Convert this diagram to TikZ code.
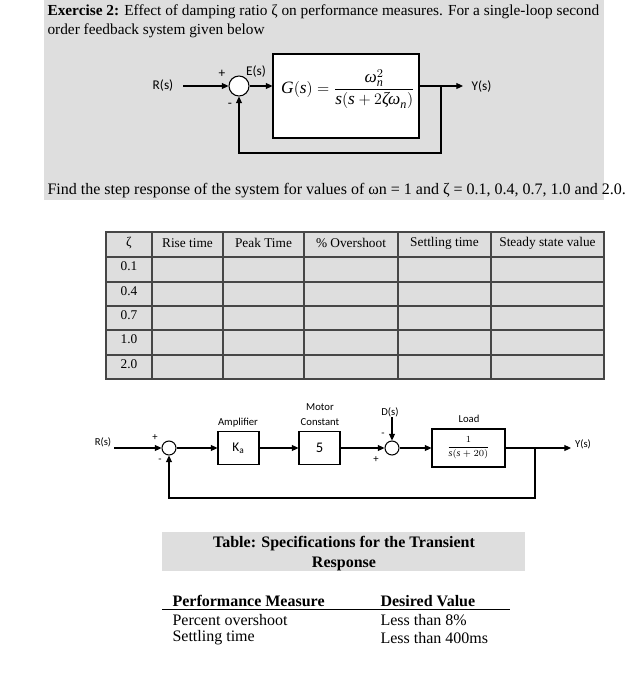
\documentclass[tikz,border=0pt]{standalone}
\usepackage{amsmath}
\usepackage{fontspec}
\setmainfont{Liberation Serif}
\newfontfamily\calibri{Carlito}
\usetikzlibrary{arrows.meta}

\definecolor{panelgray}{RGB}{222,222,222}
\definecolor{gridline}{RGB}{70,70,70}
\newcommand{\ti}[1]{\textit{#1}}

\tikzset{
  sumnode/.style={draw,circle,fill=white,minimum size=#1,inner sep=0pt},
  sumnode/.default=15pt,
  blockbox/.style={draw,fill=white,inner sep=0pt},
  sig/.style={-{Triangle[length=5pt,width=4.5pt]}},
  lbl/.style={font=\calibri\fontsize{10}{12}\selectfont,inner sep=0pt},
  lblsmall/.style={font=\calibri\fontsize{8}{11.25}\selectfont,inner sep=0pt},
  cell/.style={font=\fontsize{10}{12}\selectfont,inner sep=0pt},
  body/.style={font=\fontsize{11.5}{14}\selectfont,inner sep=0pt,anchor=west},
  spec/.style={font=\fontsize{12}{15}\selectfont,inner sep=0pt,anchor=west},
}

\begin{document}
\begin{tikzpicture}[x=0.75pt,y=-0.75pt,line width=0.8pt]
  \useasboundingbox (0,0) rectangle (629,675);

  % exercise panel
  \fill[panelgray] (44,0) rectangle (604,200);
  \node[body] (ex1) at (47,12) {\textbf{Exercise 2:} Effect of damping ratio ζ on performance measures. For a single-loop second};
  \node[body] (ex2) at (47,31) {order feedback system given below};

  \node[lbl] (rA) at (163,86) {R(s)};
  \coordinate (inA) at (183,86);
  \node[sumnode] (sA) at (239,86) {};
  \node[blockbox,minimum width=109.5pt,minimum height=63pt] (gA) at (346,96) {};
  \node[font=\fontsize{13}{15}\selectfont,inner sep=0pt] (gtf) at (348,89) {$\ti{G}(\ti{s})=\dfrac{\ti{ω}^2_{\ti{n}}\rule[-2pt]{0pt}{0pt}}{\ti{s}(\ti{s}+2\ti{ζω}_{\ti{n}})}$};
  \coordinate (brA) at (441,86);
  \coordinate (outA) at (463,86);
  \node[lbl,anchor=west] (yA) at (471,87) {Y(s)};
  \node[lbl] (plusA) at (222,74) {+};
  \node[lbl] (eA) at (256,72) {E(s)};
  \node[lbl] (minusA) at (230,105) {-};

  \draw[sig] (inA) -- (sA);
  \draw[sig] (sA.east) -- (sA.east -| gA.west);
  \draw (gA.east |- brA) -- (brA);
  \draw[sig] (brA) -- (outA);
  \draw[sig] (brA) -- ++(0,67) -| (sA.south);

  \node[body,font=\fontsize{12}{14}\selectfont] (find) at (47,191) {Find the step response of the system for values of ωn = 1 and ζ = 0.1, 0.4, 0.7, 1.0 and 2.0.};

  % table of step response values
  \fill[panelgray] (106,232) rectangle (604,379);
  \draw[gridline] (106,232) rectangle (604,379);
  \foreach \x in {152,223,304,398,491}
    \draw[gridline] (\x,232) -- (\x,379);
  \foreach \y in {257,282,306,330,355}
    \draw[gridline] (106,\y) -- (604,\y);
  \foreach \x/\t [count=\i] in {129/ζ,187.5/Rise time,263.5/Peak Time,351/\% Overshoot,444.5/Settling time,547.5/Steady state value}
    \node[cell] (h\i) at (\x,243) {\t};
  \foreach \y/\v [count=\i] in {266/0.1,291/0.4,315/0.7,339/1.0,364/2.0}
    \node[cell] (z\i) at (129,\y) {\v};

  % motor loop
  \node[lblsmall] (rB) at (103,442) {R(s)};
  \coordinate (inB) at (114,448);
  \node[sumnode=10.5pt] (sB) at (169,448) {};
  \node[blockbox,minimum width=30.75pt,minimum height=24.75pt,font=\calibri\fontsize{10}{12}\selectfont] (amp) at (238.5,448) {K\textsubscript{a}};
  \node[blockbox,minimum width=30.75pt,minimum height=24.75pt,font=\calibri\fontsize{11}{12}\selectfont] (motor) at (319.5,448) {5};
  \node[sumnode=10.5pt] (sC) at (392,448) {};
  \node[blockbox,minimum width=54.75pt,minimum height=28.5pt,font=\fontsize{7.5}{9}\selectfont] (load) at (468.5,448) {$\dfrac{1}{\ti{s}(\ti{s}+20)}$};
  \coordinate (brB) at (535,448);
  \coordinate (outB) at (571,448);
  \node[lblsmall] (yB) at (583,444) {Y(s)};
  \node[lblsmall] (dB) at (390,412) {D(s)};
  \node[lblsmall] (ampLbl) at (238,423) {Amplifier};
  \node[lblsmall,align=center] (motorLbl) at (320,414.5) {Motor\\Constant};
  \node[lblsmall] (loadLbl) at (469,419) {Load};
  \node[lblsmall] (plusB) at (155,438) {+};
  \node[lblsmall] (minusB) at (160,461) {-};
  \node[lblsmall] (minusC) at (383,435) {-};
  \node[lblsmall] (plusC) at (376,460) {+};

  \draw[sig] (inB) -- (sB);
  \draw[sig] (sB) -- (amp);
  \draw[sig] (amp) -- (motor);
  \draw[sig] (motor) -- (sC);
  \draw[sig] (sC) -- (load);
  \draw (load) -- (brB);
  \draw[sig] (brB) -- (outB);
  \draw[sig] (brB) -- ++(0,50) -| (sB.south);
  \draw[sig] (sC |- dB.south) -- (sC.north);

  % specifications
  \fill[panelgray] (162,532) rectangle (525,571);
  \node[font=\bfseries\fontsize{12}{15}\selectfont,align=center,inner sep=0pt] (specTitle) at (344,554) {Table: Specifications for the Transient\\Response};
  \node[spec,font=\bfseries\fontsize{12}{15}\selectfont] (pmHead) at (172,601) {Performance Measure};
  \node[spec,font=\bfseries\fontsize{12}{15}\selectfont] (dvHead) at (380,601) {Desired Value};
  \draw[line width=0.6pt] (162,609) -- (510,609);
  \node[spec] (pm1) at (172,620) {Percent overshoot};
  \node[spec] (dv1) at (380,620) {Less than 8\%};
  \node[spec] (pm2) at (172,638) {Settling time};
  \node[spec] (dv2) at (380,638) {Less than 400ms};
\end{tikzpicture}
\end{document}
